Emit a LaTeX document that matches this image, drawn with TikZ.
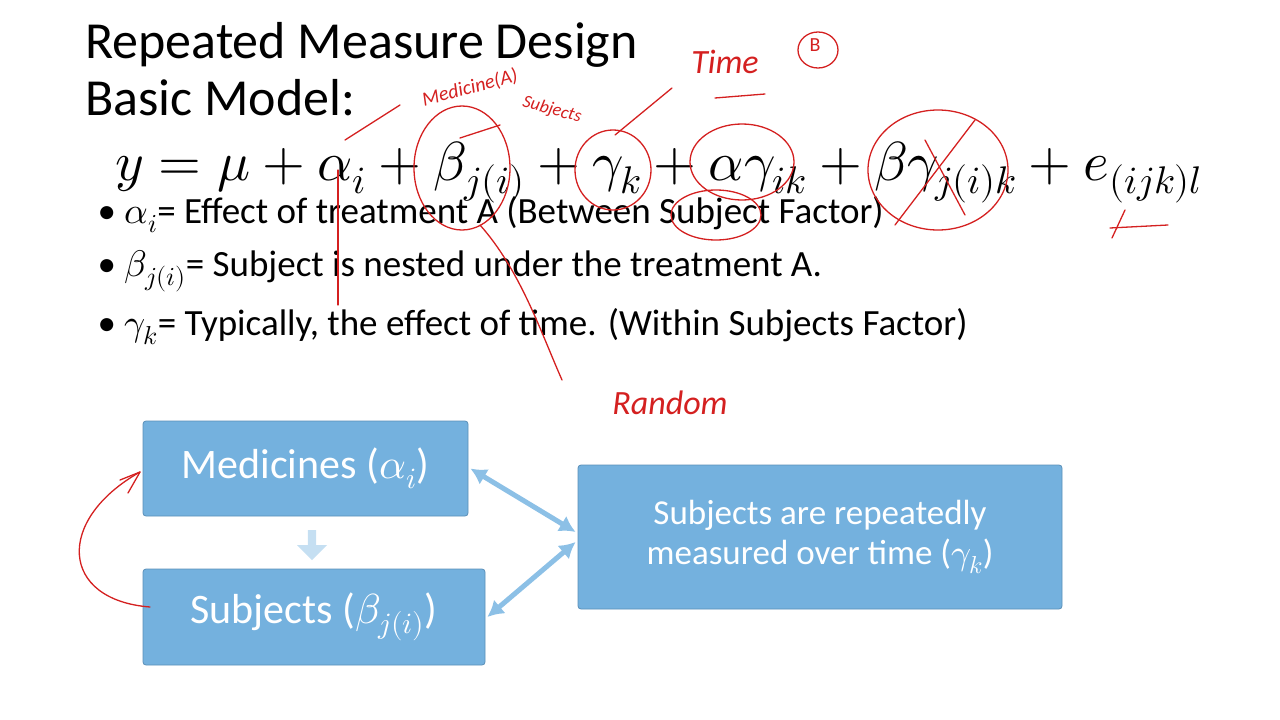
\documentclass[tikz,border=0pt]{standalone}
\usepackage{fontspec}
\usepackage{unicode-math}
\setmainfont{Carlito}
\setmathfont{Latin Modern Math}
\usetikzlibrary{arrows.meta,shapes.arrows}
\definecolor{boxblue}{HTML}{74B1DE}
\definecolor{boxedge}{HTML}{5A8FB8}
\definecolor{arrblue}{HTML}{8CC0E6}
\definecolor{ink}{HTML}{D42020}
\tikzset{
 box/.style={draw=boxedge,line width=0.8pt,fill=boxblue,rounded corners=3pt,text=white,align=center,font=\fontsize{42}{46}\selectfont},
 dbl/.style={{Latex[length=16pt,width=18pt]}-{Latex[length=16pt,width=18pt]},line width=5pt,draw=arrblue},
 pen/.style={draw=ink,line width=1.3pt,line cap=round,line join=round},
 hand/.style={text=ink,font=\fontsize{34}{34}\selectfont\itshape},
 bul/.style={anchor=west,font=\fontsize{37}{40}\selectfont}
}
\begin{document}
\begin{tikzpicture}[x=1pt,y=-1pt]
\useasboundingbox (0,0) rectangle (1280,720);
\node[anchor=base west,font=\fontsize{52}{56}\selectfont,inner sep=0] (t1) at (85,58) {Repeated Measure Design};
\node[anchor=base west,font=\fontsize{52}{56}\selectfont,inner sep=0] (t2) at (85,115) {Basic Model:};
\node[anchor=base west,font=\fontsize{55}{58}\selectfont,inner sep=0] (eq) at (115,180) {$y=\mu+\alpha_i+\beta_{j(i)}+\gamma_k+\alpha\gamma_{ik}+\beta\gamma_{j(i)k}+e_{(ijk)l}$};
\node[bul] (b1) at (94,215) {• $\alpha_i$= Effect of treatment A (Between Subject Factor)};
\node[bul] (b2) at (94,271) {• $\beta_{j(i)}$= Subject is nested under the treatment A.};
\node[bul] (b3) at (94,327) {• $\gamma_k$= Typically, the effect of time. (Within Subjects Factor)};
\node[box,minimum width=325pt,minimum height=95pt] (med) at (305.5,468.5) {Medicines ($\alpha_i$)};
\node[box,minimum width=342pt,minimum height=96pt] (sub) at (314,617) {Subjects ($\beta_{j(i)}$)};
\node[box,minimum width=484pt,minimum height=144pt,font=\fontsize{35}{40}\selectfont] (rep) at (820,537) {Subjects are repeatedly\\measured over time ($\gamma_k$)};
\node[single arrow,fill=arrblue!50,draw=none,rotate=-90,minimum height=30pt,minimum width=30pt,single arrow head extend=6pt,inner sep=2pt] (dn) at (312,543) {};
\draw[dbl] (med.east) ++(2,0) -- ([xshift=-2pt,yshift=5pt]rep.west);
\draw[dbl] (sub.east) ++(2,0) -- ([xshift=-2pt,yshift=-5pt]rep.west);
% annotations
\node[hand] (time) at (725,62) {Time};
\node[hand,font=\fontsize{20}{20}\selectfont\itshape,rotate=15] (mda) at (470,88) {Medicine(A)};
\node[hand,font=\fontsize{18}{18}\selectfont\itshape,rotate=-15] (sbj) at (552,110) {Subjects};
\node[hand] (rand) at (670,403) {Random};
\draw[pen] (818,50) ellipse (20pt and 18pt);
\node[hand,font=\fontsize{20}{20}\selectfont] (bb) at (815,45) {B};
\draw[pen] (715,98) -- (765,94);
\draw[pen] (672,88) -- (615,135);
\draw[pen] (400,105) -- (345,140);
\draw[pen] (500,125) -- (460,138);
\draw[pen] (462,168) ellipse (48pt and 62pt);
\draw[pen] (613,170) ellipse (38pt and 40pt);
\draw[pen] (742,162) ellipse (52pt and 38pt);
\draw[pen] (716,215) ellipse (45pt and 25pt);
\draw[pen] (938,170) ellipse (70pt and 60pt);
\draw[pen] (895,225) -- (975,120); \draw[pen] (925,140) -- (965,215);
\draw[pen] (480,225) .. controls (520,270) and (540,330) .. (562,380);
\draw[pen] (338,170) -- (338,305);
\draw[pen] (1112,238) -- (1125,210); \draw[pen] (1110,228) -- (1168,225);
\draw[pen] (150,607) .. controls (60,600) and (55,520) .. (140,472);
\draw[pen] (120,480) -- (140,472) -- (128,493);
\end{tikzpicture}
\end{document}
